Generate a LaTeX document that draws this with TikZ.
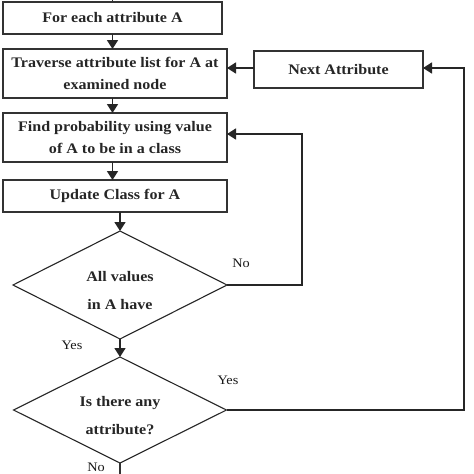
\documentclass[tikz,border=0pt]{standalone}
\usepackage{fontspec}
\setmainfont{Liberation Serif}[FakeStretch=1.1]
\usetikzlibrary{shapes.geometric,arrows.meta}
\begin{document}
\begin{tikzpicture}[x=1pt,y=-1pt,
  box/.style={draw=black!80,line width=1.6pt,rectangle,inner sep=0pt,outer sep=0pt,align=center,font=\fontsize{14.6}{22}\selectfont\bfseries,text=black!85},
  dia/.style={draw=black!85,line width=1.1pt,diamond,inner sep=0pt,outer sep=0pt,font=\fontsize{14.6}{28}\selectfont\bfseries,text=black!85},
  lab/.style={font=\fontsize{13}{14}\selectfont,text=black!90,inner sep=0pt},
  arr/.style={draw=black!85,line width=1.6pt,-{Triangle[length=9pt,width=11pt]}},
  ln/.style={draw=black!80,line width=1.6pt}]
\newcommand{\diatext}[1]{\makebox[0pt]{\raisebox{-8.5pt}[0pt][0pt]{\begin{tabular}{@{}c@{}}#1\end{tabular}}}}
\useasboundingbox (0,0) rectangle (474,474);
\fill[white] (0,0) rectangle (474,474);
\node[box,minimum width=219,minimum height=32] (b1) at (112.5,18) {For each attribute A};
\node[box,minimum width=224,minimum height=49] (b2) at (115,73.5) {Traverse attribute list for A at\\examined node};
\node[box,minimum width=224,minimum height=49] (b3) at (115,137.5) {Find probability using value\\of A to be in a class};
\node[box,minimum width=224,minimum height=32] (b4) at (115,196) {Update Class for A};
\node[box,minimum width=169,minimum height=37] (na) at (338.5,69.5) {Next Attribute};
\node[dia,minimum width=214,minimum height=108] (d1) at (120,285) {\diatext{All values\\in A have}};
\node[dia,minimum width=213,minimum height=106] (d2) at (120,410) {\diatext{Is there any\\attribute?}};
\coordinate (top) at (112.5,-6);
\coordinate (bot) at (120,480);
\coordinate (r1) at (302,285);
\coordinate (r2) at (464,410);
\draw[ln] (top) -- (b1.north);
\draw[arr] (b1.south) -- (b1.south |- b2.north);
\draw[arr] (b1.south |- b2.south) -- (b1.south |- b3.north);
\draw[arr] (b1.south |- b3.south) -- (b1.south |- b4.north);
\draw[arr] (d1.north |- b4.south) -- (d1.north);
\draw[arr] (d1.south) -- (d2.north);
\draw[ln] (d2.south) -- (bot);
\draw[arr] (na.west |- 0,68) -- (b2.east |- 0,68);
\draw[arr] (d1.east) -- (r1) -- (r1 |- 0,134) -- (b3.east |- 0,134);
\draw[arr] (d2.east) -- (r2) -- (r2 |- 0,68) -- (na.east |- 0,68);
\node[lab] (no1) at (241,263) {No};
\node[lab] (yes1) at (72,345) {Yes};
\node[lab] (yes2) at (228,380) {Yes};
\node[lab] (no2) at (96,467) {No};
\end{tikzpicture}
\end{document}
